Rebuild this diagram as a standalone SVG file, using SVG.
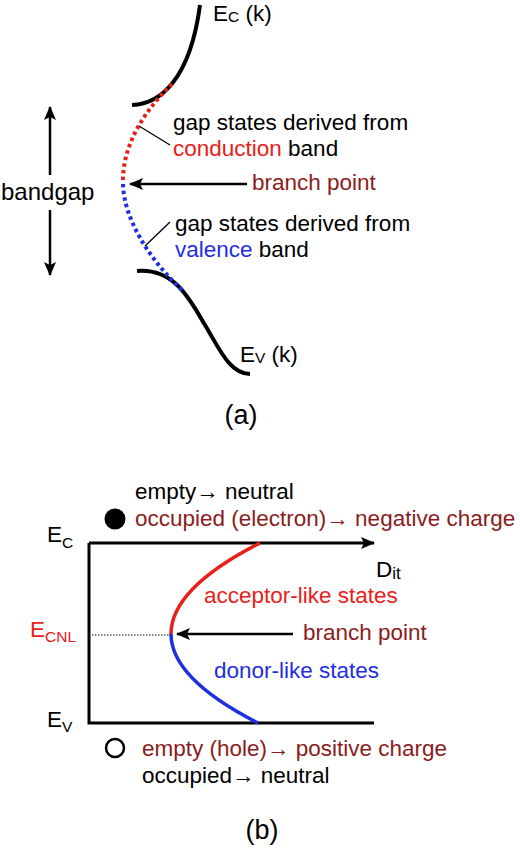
<svg xmlns="http://www.w3.org/2000/svg" width="520" height="848" viewBox="0 0 520 848">
<defs>
<style>
text{font-family:"Liberation Sans",Arial,sans-serif;font-size:22.5px;fill:#000}
.red{fill:#e8201a}
.dred{fill:#8b1c1c}
.blue{fill:#1f2fe0}
.sub{font-size:15.5px}
.ln{fill:none;stroke:#000;stroke-width:3}
</style>
<marker id="ah" viewBox="0 0 14 12" refX="13" refY="6" markerWidth="14" markerHeight="12" markerUnits="userSpaceOnUse" orient="auto">
<path d="M0,0 L14,6 L0,12 L3,6 Z" fill="#000"/>
</marker>
</defs>
<rect width="520" height="848" fill="#fff"/>

<g id="panel-a">
<g id="ec-band">
<path d="M132,105 C160,104 190,80 200,5" fill="none" stroke="#000" stroke-width="4"/>
<text x="213" y="21">E<tspan class="sub" dy="1">C</tspan><tspan dy="-1"> (k)</tspan></text>
</g>
<g id="ev-band">
<path d="M137,271 C175,268 190,300 205,325 S230,374 250,374" fill="none" stroke="#000" stroke-width="4"/>
<text x="240" y="362">E<tspan class="sub" dy="1">V</tspan><tspan dy="-1"> (k)</tspan></text>
</g>
<g id="cb-gap-states">
<path d="M172,84 C145,110 122,145 123,183" fill="none" stroke="#e8201a" stroke-width="4" stroke-dasharray="3.5 3.2"/>
<text x="173" y="130">gap states derived from</text>
<text x="173" y="156"><tspan class="red">conduction</tspan> band</text>
</g>
<g id="vb-gap-states">
<path d="M123,184 C124,220 150,260 182,290" fill="none" stroke="#1f2fe0" stroke-width="4" stroke-dasharray="3.5 3.2"/>
<text x="175" y="231">gap states derived from</text>
<text x="175" y="257"><tspan class="blue">valence</tspan> band</text>
</g>
<g id="bandgap">
<text x="1" y="200" style="font-size:24px">bandgap</text>
</g>
<g id="branch-a">
<text x="252" y="190" class="dred">branch point</text>
</g>
<text x="241" y="424" text-anchor="middle" style="font-size:27px">(a)</text>
</g>

<g id="panel-b">
<g id="axes">
<path class="ln" d="M89,543 V723 H374"/>
<path class="ln" d="M89,543 H374" marker-end="url(#ah)"/>
<text x="47" y="542">E<tspan class="sub" dy="6">C</tspan></text>
<text x="47" y="727">E<tspan class="sub" dy="5">V</tspan></text>
<text x="376" y="577">D<tspan class="sub" dy="2" style="font-size:17px">it</tspan></text>
</g>
<g id="acceptor-states">
<path d="M260,543 Q171,588.5 171,634" fill="none" stroke="#e8201a" stroke-width="3.5"/>
<text x="204" y="603" class="red">acceptor-like states</text>
</g>
<g id="donor-states">
<path d="M171,634 Q171,678.5 258,723" fill="none" stroke="#1f2fe0" stroke-width="3.5"/>
<text x="214" y="678" class="blue">donor-like states</text>
</g>
<g id="ecnl">
<text x="30" y="637" class="red">E<tspan class="sub" dy="5">CNL</tspan></text>
</g>
<g id="branch-b">
<text x="303" y="640" class="dred">branch point</text>
</g>
<g id="electron">
<circle cx="115" cy="519" r="10.5" fill="#000"/>
<text x="135" y="499">empty→ neutral</text>
<text x="135" y="526" class="dred">occupied (electron)→ negative charge</text>
</g>
<g id="hole">
<circle cx="115" cy="748" r="9" fill="none" stroke="#000" stroke-width="2.5"/>
<text x="142" y="756" class="dred">empty (hole)→ positive charge</text>
<text x="142" y="783">occupied→ neutral</text>
</g>
<text x="262" y="839" text-anchor="middle" style="font-size:27px">(b)</text>
</g>

<g id="connectors">
<line x1="50" y1="175" x2="50" y2="107" stroke="#000" stroke-width="2.5" marker-end="url(#ah)"/>
<line x1="50" y1="210" x2="50" y2="275" stroke="#000" stroke-width="2.5" marker-end="url(#ah)"/>
<line x1="247" y1="184" x2="130" y2="184" stroke="#000" stroke-width="2.5" marker-end="url(#ah)"/>
<line x1="139" y1="126" x2="170" y2="145" stroke="#000" stroke-width="1.3"/>
<line x1="145" y1="246" x2="170" y2="222" stroke="#000" stroke-width="1.3"/>
<line x1="293" y1="634" x2="177" y2="634" stroke="#000" stroke-width="2.5" marker-end="url(#ah)"/>
<line x1="92" y1="635" x2="170" y2="635" stroke="#000" stroke-width="1.2" stroke-dasharray="1.5 1.5"/>
</g>
</svg>
